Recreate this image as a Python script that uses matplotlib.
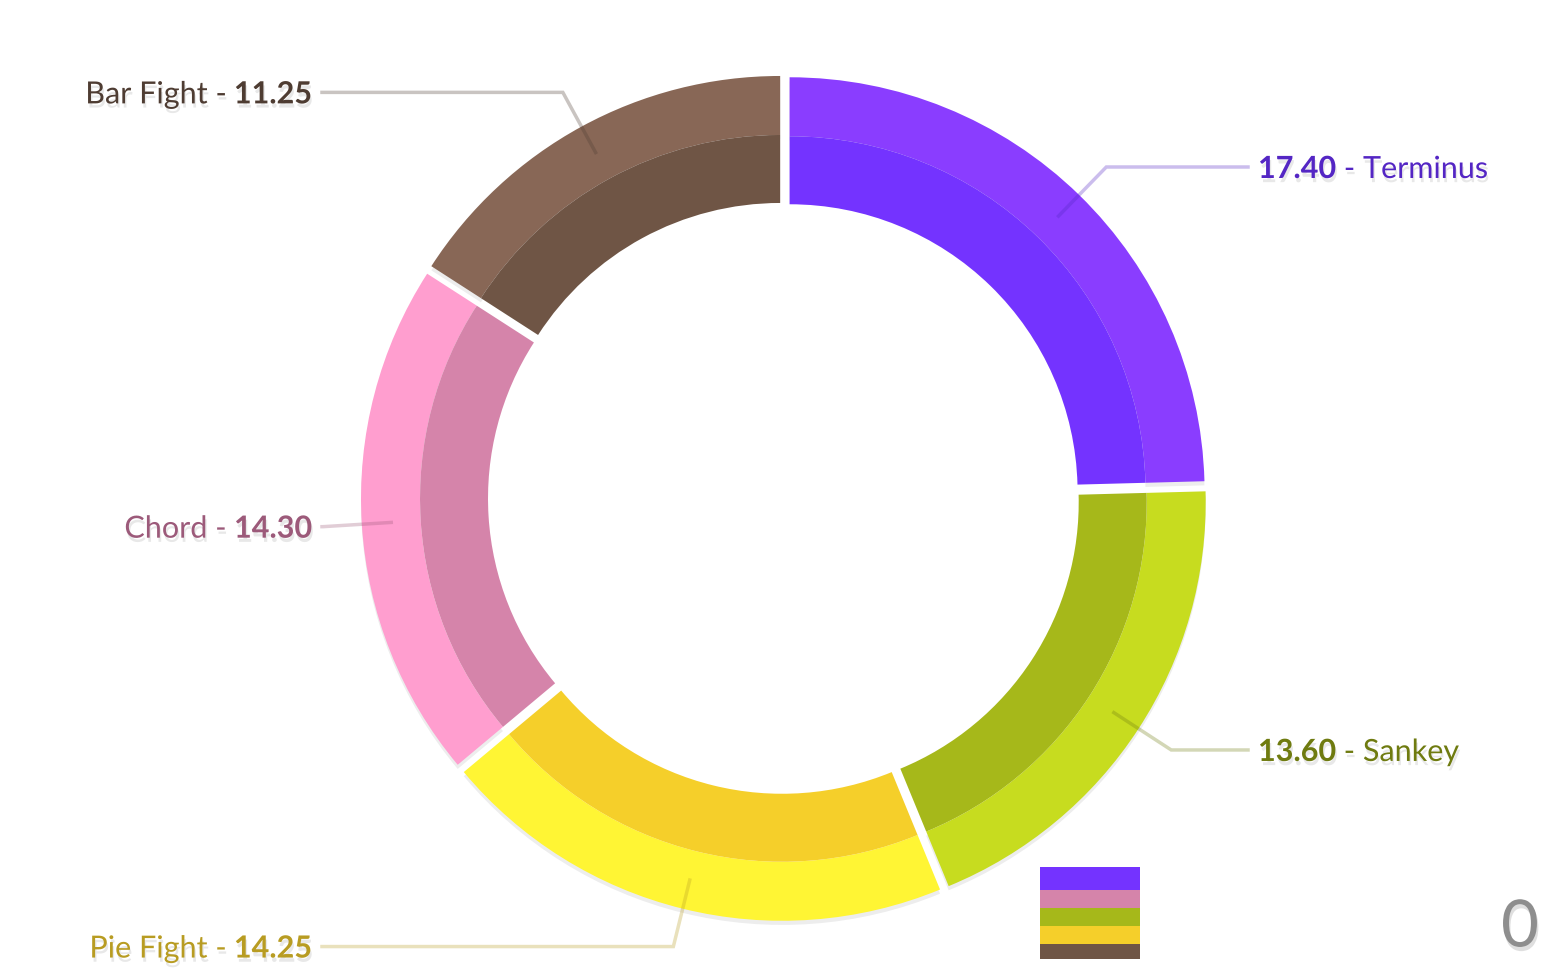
import numpy as np
import matplotlib
matplotlib.use("Agg")
from matplotlib import pyplot as plt
import matplotlib.patheffects as pe

# data, clockwise from 12 o'clock
names = ["Terminus", "Sankey", "Pie Fight", "Chord", "Bar Fight"]
values = [17.40, 13.60, 14.25, 14.30, 11.25]
outer_colors = ["#8a3dff", "#c7dc1f", "#fff534", "#ff9ecf", "#886756"]
inner_colors = ["#7433ff", "#a6b81a", "#f5cf2a", "#d584aa", "#6f5545"]
label_colors = ["#5426c4", "#6f7b10", "#b89c22", "#9c5a7a", "#4e3c32"]
# mini stacked legend, top to bottom
legend_order = ["Terminus", "Chord", "Sankey", "Pie Fight", "Bar Fight"]

W, H = 1568, 980
cx, cy = 784, H - 498
r_out, r_mid, r_in = 415, 356, 288
gap = 8  # explode distance in px

plt.rcParams["font.family"] = ["Lato", "DejaVu Sans"]

fig = plt.figure(figsize=(W / 100, H / 100), dpi=100)
ax = fig.add_axes([0, 0, 1, 1])

shadow = {"ox": 0, "oy": -3, "facecolor": "black", "edgecolor": "none", "alpha": 0.07}
ax.pie(values, radius=r_out, center=(cx, cy), startangle=90, counterclock=False,
       colors=outer_colors, explode=[gap] * len(values), shadow=shadow,
       wedgeprops=dict(width=r_out - r_mid, linewidth=0, zorder=1), frame=True)
ax.pie(values, radius=r_mid, center=(cx, cy), startangle=90, counterclock=False,
       colors=inner_colors, explode=[gap] * len(values),
       wedgeprops=dict(width=r_mid - r_in, linewidth=0, zorder=2), frame=True)
ax.set_xlim(0, W)
ax.set_ylim(0, H)
ax.set_aspect("equal")
ax.axis("off")

text_shadow = [pe.SimplePatchShadow(offset=(1, -3), shadow_rgbFace="black", alpha=0.09),
               pe.Normal()]

fig.canvas.draw()
renderer = fig.canvas.get_renderer()

total = sum(values)
start = 90.0
for name, val, lc in zip(names, values, label_colors):
    sweep = val / total * 360
    mid = np.radians(start - sweep / 2)
    start -= sweep
    r1, r2 = (r_out + r_mid) / 2 + gap, 462
    x1, y1 = cx + r1 * np.cos(mid), cy + r1 * np.sin(mid)
    x2, y2 = cx + r2 * np.cos(mid), cy + r2 * np.sin(mid)
    right = np.cos(mid) > 0
    x3 = cx + 464 if right else cx - 462
    ax.plot([x1, x2, x3], [y1, y2, y2], color=lc, alpha=0.3, lw=2.5,
            solid_joinstyle="miter", zorder=5)
    yb = y2 - 11
    num = f"{val:.2f}"
    if right:
        t1 = ax.text(x3 + 10, yb, num, ha="left", va="baseline", fontsize=22,
                     fontweight="bold", color=lc, path_effects=text_shadow, zorder=6)
        bb = t1.get_window_extent(renderer)
        ax.text(bb.x1, yb, f" - {name}", ha="left", va="baseline", fontsize=22,
                color=lc, path_effects=text_shadow, zorder=6)
    else:
        t1 = ax.text(x3 - 10, yb, num, ha="right", va="baseline", fontsize=22,
                     fontweight="bold", color=lc, path_effects=text_shadow, zorder=6)
        bb = t1.get_window_extent(renderer)
        ax.text(bb.x0, yb, f"{name} - ", ha="right", va="baseline", fontsize=22,
                color=lc, path_effects=text_shadow, zorder=6)

# mini stacked legend
lax = fig.add_axes([1040 / W, 21 / H, 100 / W, 92 / H])
bottom = 0
for name in reversed(legend_order):
    i = names.index(name)
    lax.bar(0, values[i], bottom=bottom, width=1, color=inner_colors[i], linewidth=0)
    bottom += values[i]
lax.set_xlim(-0.5, 0.5)
lax.set_ylim(0, total)
lax.axis("off")

ax.text(1520, H - 928, "0", ha="center", va="center", fontsize=47, color="#8e8e8e",
        path_effects=[pe.SimplePatchShadow(offset=(1, -3), alpha=0.15), pe.Normal()])

fig.savefig("out.png", dpi=100, facecolor="white")
